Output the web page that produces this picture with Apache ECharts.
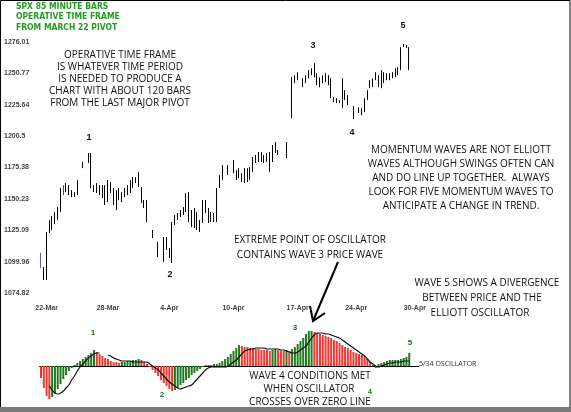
<!DOCTYPE html>
<html><head><meta charset="utf-8">
<script src="https://cdn.jsdelivr.net/npm/echarts@6/dist/echarts.min.js"></script>
<style>html,body{margin:0;padding:0;background:#fff}#c{width:571px;height:412px}</style>
</head><body><div id="c"></div>
<script>
// ---- data ----
const dateLabels = ['22-Mar','28-Mar','4-Apr','10-Apr','17-Apr','24-Apr','30-Apr'];
const dateLabelBar = [2,24,46,69,92,113,134];
const priceTicks = [1074.82,1099.96,1125.09,1150.23,1175.38,1200.5,1225.64,1250.77,1276.01];
const barCount = 136;
const barHigh = [
1106.9,1095.6,1123.7,1133.3,1136.5,1139.7,1143.7,1158.9,1161.3,1162.9,
1161.3,1157.3,1155.7,1165.3,null,1179.8,null,1187.0,1187.0,1161.3,
1162.9,1161.3,1161.3,1161.3,1165.3,1163.7,1158.9,1157.3,1158.9,1155.7,
1158.9,1161.3,1165.3,1167.7,1167.7,1171.7,1159.7,1149.3,1149.3,null,
1125.3,null,1115.7,null,1119.7,1119.7,1110.9,1131.7,1137.3,1138.9,
1141.3,1143.7,1154.9,1155.7,1141.3,1142.9,1139.7,1133.3,1149.3,1149.3,
1142.9,1139.7,1138.9,1158.9,1169.3,1177.3,null,1177.3,null,1181.4,
1173.3,1174.9,1170.9,1174.9,1174.9,1175.7,1183.8,1185.4,1187.8,1187.8,
1185.4,1187.0,1187.8,1193.4,1195.8,1189.4,null,null,1195.8,null,
1247.8,1249.4,1251.8,null,1247.0,1249.4,1253.4,1255.0,1259.0,1251.0,
1247.8,1249.4,1251.0,1249.4,1247.0,1231.8,1231.0,1229.4,1247.0,1237.4,
1233.4,null,1224.6,null,1223.8,1223.0,1231.0,1237.4,1245.4,1247.0,
1251.8,1249.4,1253.4,1251.8,1251.0,1251.0,1251.8,1255.0,1255.8,1271.9,
1274.3,1273.5,1271.9];
const barLow = [
1094.8,1085.2,1085.2,1122.9,1125.3,1130.1,1133.3,1139.7,1153.3,1155.7,
1153.3,1151.7,1151.7,1153.3,null,1174.9,null,1179.0,1158.9,1155.7,
1154.9,1153.3,1150.9,1145.3,1147.7,1154.9,1145.3,1141.3,1149.3,1147.7,
1151.7,1153.3,1154.9,1158.9,1162.9,1159.7,1146.9,1142.9,1131.7,null,
1118.9,null,1103.7,null,1099.7,1109.3,1102.9,1098.9,1129.3,1133.3,
1135.7,1137.3,1139.7,1131.7,1127.7,1126.9,1125.3,1123.7,1130.9,1138.9,
1130.9,1131.7,1131.7,1131.7,1158.9,1165.3,null,1169.3,null,1170.9,
1165.3,1166.9,1163.7,1162.9,1163.7,1165.3,1171.7,1179.0,1179.8,1179.8,
1179.0,1179.8,1171.7,1179.8,1187.0,1185.4,null,null,1183.0,null,
1215.0,1243.0,1245.4,null,1239.8,1243.0,1247.0,1249.4,1247.8,1241.4,
1239.8,1243.0,1243.8,1241.4,1231.0,1227.8,1227.0,1227.0,1223.0,1229.4,
1225.4,null,1214.2,null,1219.0,1217.4,1219.8,1229.4,1239.0,1239.8,
1245.4,1239.8,1239.0,1243.0,1245.4,1245.4,1247.0,1247.8,1249.4,1253.4,
1271.9,1271.1,1253.4];
const oscHist = [
-12,-22,-30,-33,-31,-28,-23,-18,-13,-9,
-5,-2,1,3,5,7,9,11,13,16,
14,12,10,8,7,5,4,4,3,4,
4,5,5,6,6,7,6,4,2,-1,
-4,-7,-10,-14,-17,-20,-23,-25,-24,-22,
-19,-17,-14,-12,-9,-7,-5,-3,-1,1,
1,1,2,2,3,5,7,9,12,15,
18,21,20,19,19,18,18,17,17,16,
16,16,15,16,17,16,15,15,16,15,
17,19,22,25,28,32,35,35,34,33,
32,31,30,29,28,26,25,23,21,19,
18,16,14,13,12,11,10,7,4,1,
-2,2,3,4,5,6,6,6,6,7,
8,9,13];
const oscSignal = [
null,null,null,-20,-24,-27,-28,-27,-25,-22,
-19,-14,-10,-5,-1,2,5,8,10,12,
13,13,null,null,11,10,8,7,6,5,
5,5,5,4,4,4,4,4,4,2,
0,-2,-4,-7,-10,-13,-16,-18,-20,-22,
-23,-22,-21,-20,-19,-16,-13,-10,-7,-4,
-2,-1,-1,-1,-1,-1,-1,0,2,4,
6,9,12,15,16,17,17,18,18,18,
18,17,17,17,17,17,16,16,15,14,
13,13,14,16,18,20,24,28,31,33,
33,33,32,32,31,30,29,28,26,24,
22,20,18,16,14,12,10,7,4,2,
0,-1,0,1,2,3,3,4,4,4,
5,5,5];

// ---- build ----
const categories = [];
for (let i = 0; i < barCount; i++) {
  const k = dateLabelBar.indexOf(i);
  categories.push(k >= 0 ? dateLabels[k] : String(i));
}
const specialBarColor = {0: '#5b5fa8', 8: '#9a2b2b'};
const candleData = barHigh.map((h, i) => {
  const l = barLow[i];
  if (h == null || l == null) return '-';
  const item = {value: [l, h, l, h]};
  if (specialBarColor[i]) item.itemStyle = {color: specialBarColor[i], borderColor: specialBarColor[i], color0: specialBarColor[i], borderColor0: specialBarColor[i]};
  return item;
});
let lastCol = '#e8332c';
const histData = oscHist.map((v, i) => {
  if (i > 0) {
    if (v > oscHist[i-1]) lastCol = '#1f7a22';
    else if (v < oscHist[i-1]) lastCol = '#ea3a33';
  }
  return {value: v, itemStyle: {color: lastCol}};
});

const annFont = '"Open Sans","DejaVu Sans",sans-serif';
function txt(x, y, s, size, opts) {
  opts = opts || {};
  const font = (opts.weight || 'normal') + ' ' + size + 'px ' + (opts.family || annFont);
  return {type: 'text', z: 100, style: {text: s, x: x, y: y, font: font, fill: opts.fill || '#111',
    textAlign: opts.align || 'center', align: opts.align || 'center',
    textVerticalAlign: 'middle', verticalAlign: 'middle'}};
}
const greenTitle = '"Liberation Sans Narrow","DejaVu Sans Condensed",sans-serif';
const graphics = [
  {type: 'rect', z: 90, shape: {x: 0.5, y: 0.5, width: 569.5, height: 410}, style: {fill: null, stroke: '#000', lineWidth: 1}},
  {type: 'rect', z: 91, shape: {x: 0, y: 407, width: 571, height: 5}, style: {fill: '#7a7a7a'}},
  txt(16, 7, 'SPX 85 MINUTE BARS', 8.5, {weight: 'bold', fill: '#239a23', align: 'left', family: greenTitle}),
  txt(16, 17, 'OPERATIVE TIME FRAME', 8.5, {weight: 'bold', fill: '#239a23', align: 'left', family: greenTitle}),
  txt(16, 28, 'FROM MARCH 22 PIVOT', 8.5, {weight: 'bold', fill: '#239a23', align: 'left', family: greenTitle}),
  txt(120, 55, 'OPERATIVE TIME FRAME', 10),
  txt(120, 67, 'IS WHATEVER TIME PERIOD', 10),
  txt(120, 79, 'IS NEEDED TO PRODUCE A', 10),
  txt(120, 91, 'CHART WITH ABOUT 120 BARS', 10),
  txt(120, 103, 'FROM THE LAST MAJOR PIVOT', 10),
  txt(461, 150, 'MOMENTUM WAVES ARE NOT ELLIOTT', 10),
  txt(461, 164, 'WAVES ALTHOUGH SWINGS OFTEN CAN', 10),
  txt(461, 178, 'AND DO LINE UP TOGETHER.  ALWAYS', 10),
  txt(461, 192, 'LOOK FOR FIVE MOMENTUM WAVES TO', 10),
  txt(461, 206, 'ANTICIPATE A CHANGE IN TREND.', 10),
  txt(310, 240, 'EXTREME POINT OF OSCILLATOR', 10),
  txt(310, 255, 'CONTAINS WAVE 3 PRICE WAVE', 10),
  txt(487, 283, 'WAVE 5 SHOWS A DIVERGENCE', 10),
  txt(482, 298, 'BETWEEN PRICE AND THE', 10),
  txt(480, 313, 'ELLIOTT OSCILLATOR', 10),
  txt(310, 376, 'WAVE 4 CONDITIONS MET', 10),
  txt(309, 389, 'WHEN OSCILLATOR', 10),
  txt(310, 402, 'CROSSES OVER ZERO LINE', 10),
  txt(89, 138, '1', 9, {weight: 'bold', family: 'Liberation Sans'}),
  txt(170, 275, '2', 9, {weight: 'bold', family: 'Liberation Sans'}),
  txt(313, 46, '3', 9, {weight: 'bold', family: 'Liberation Sans'}),
  txt(352, 133, '4', 9, {weight: 'bold', family: 'Liberation Sans'}),
  txt(403, 26, '5', 9, {weight: 'bold', family: 'Liberation Sans'}),
  txt(93, 333, '1', 8, {weight: 'bold', fill: '#1d6e1d', family: 'Liberation Sans'}),
  txt(162, 395, '2', 8, {weight: 'bold', fill: '#1d6e1d', family: 'Liberation Sans'}),
  txt(295, 328, '3', 8, {weight: 'bold', fill: '#1d6e1d', family: 'Liberation Sans'}),
  txt(370, 392, '4', 7, {weight: 'bold', fill: '#1d6e1d', family: 'Liberation Sans'}),
  txt(410, 343, '5', 8, {weight: 'bold', fill: '#1d6e1d', family: 'Liberation Sans'}),
  txt(419, 364, '5/34 OSCILLATOR', 7, {align: 'left', fill: '#333'}),
  {type: 'polyline', z: 100, shape: {points: [[338, 262], [313, 321]]}, style: {stroke: '#000', lineWidth: 2, fill: null}},
  {type: 'polyline', z: 100, shape: {points: [[325, 313], [313, 321], [310, 306]]}, style: {stroke: '#000', lineWidth: 2, fill: null}}
];

const axisFont = {fontFamily: 'Liberation Sans', fontSize: 7, fontWeight: 'bold', color: '#444'};
const chart = echarts.init(document.getElementById('c'), null, {renderer: 'canvas'});
chart.setOption({
  animation: false,
  backgroundColor: '#fff',
  grid: [
    {left: 39.6, top: 42, width: 379.4, height: 251},
    {left: 39.6, top: 326, width: 379.4, height: 80}
  ],
  xAxis: [
    {type: 'category', gridIndex: 0, data: categories, boundaryGap: true,
     axisLine: {show: false}, axisTick: {show: false}, splitLine: {show: false},
     axisLabel: Object.assign({interval: (i) => dateLabelBar.indexOf(i) >= 0, margin: 12, hideOverlap: false}, axisFont)},
    {type: 'category', gridIndex: 1, data: categories, boundaryGap: true,
     axisLine: {show: true, onZero: true, lineStyle: {color: '#000', width: 1}},
     axisTick: {show: false}, axisLabel: {show: false}, splitLine: {show: false}}
  ],
  yAxis: [
    {type: 'value', gridIndex: 0, min: 1074.82, max: 1276.01, scale: true,
     axisLine: {show: false}, axisTick: {show: false}, splitLine: {show: false},
     axisLabel: Object.assign({customValues: priceTicks, align: 'left', margin: 35.6,
       formatter: (v) => String(v)}, axisFont)},
    {type: 'value', gridIndex: 1, min: -40, max: 40,
     axisLine: {show: false}, axisTick: {show: false}, splitLine: {show: false}, axisLabel: {show: false}}
  ],
  series: [
    {type: 'candlestick', xAxisIndex: 0, yAxisIndex: 0, data: candleData, barWidth: 1,
     itemStyle: {color: '#000', color0: '#000', borderColor: '#000', borderColor0: '#000', borderWidth: 1}},
    {type: 'bar', xAxisIndex: 1, yAxisIndex: 1, data: histData, barWidth: 2},
    {type: 'line', xAxisIndex: 1, yAxisIndex: 1, data: oscSignal, smooth: true, showSymbol: false,
     connectNulls: false, lineStyle: {color: '#111', width: 1.2}, z: 5}
  ],
  graphic: graphics
});
</script>
</body></html>
